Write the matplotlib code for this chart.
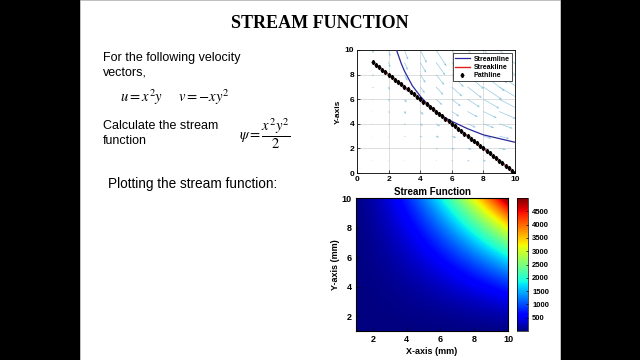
import numpy as np
import matplotlib.pyplot as plt
from matplotlib.patches import Rectangle

plt.rcParams['font.family'] = ['Liberation Sans', 'DejaVu Sans']
plt.rcParams['mathtext.fontset'] = 'stix'

# velocity field sample points (u = x^2 y, v = -x y^2 from the slide)
grid_x = [0, 1, 2, 3, 4, 5, 6, 7, 8, 9, 10]
grid_y = [0, 1, 2, 3, 4, 5, 6, 7, 8, 9, 10]

# streamline
streamline_x = [2.5, 2.8, 3.0, 3.5, 4.0, 4.5, 5.0, 5.5, 6.0, 7.0, 8.0, 9.0, 10.0]
streamline_y = [10.0, 8.9, 8.3, 7.1, 6.25, 5.55, 5.0, 4.55, 4.2, 3.6, 3.1, 2.8, 2.5]

# streakline and pathline (straight, from (1, 9) to (10, 0))
streak_x = [1, 10]
streak_y = [9, 0]
path_x = [1.0, 1.2, 1.4, 1.6, 1.8, 2.0, 2.2, 2.4, 2.6, 2.8,
          3.0, 3.2, 3.4, 3.6, 3.8, 4.0, 4.2, 4.4, 4.6, 4.8,
          5.0, 5.2, 5.4, 5.6, 5.8, 6.0, 6.2, 6.4, 6.6, 6.8,
          7.0, 7.2, 7.4, 7.6, 7.8, 8.0, 8.2, 8.4, 8.6, 8.8,
          9.0, 9.2, 9.4, 9.6, 9.8, 10.0]
path_y = [9.0, 8.8, 8.6, 8.4, 8.2, 8.0, 7.8, 7.6, 7.4, 7.2,
          7.0, 6.8, 6.6, 6.4, 6.2, 6.0, 5.8, 5.6, 5.4, 5.2,
          5.0, 4.8, 4.6, 4.4, 4.2, 4.0, 3.8, 3.6, 3.4, 3.2,
          3.0, 2.8, 2.6, 2.4, 2.2, 2.0, 1.8, 1.6, 1.4, 1.2,
          1.0, 0.8, 0.6, 0.4, 0.2, 0.0]

cbar_ticks = [500, 1000, 1500, 2000, 2500, 3000, 3500, 4000, 4500]

fig = plt.figure(figsize=(6.4, 3.6), dpi=100)
fig.patch.set_facecolor('black')
fig.patches.append(Rectangle((80 / 640, 0), 480 / 640, 1, transform=fig.transFigure,
                             facecolor='white', edgecolor='#dddddd', lw=0.5, zorder=-5))

# slide text
fig.text(0.5, 0.935, 'STREAM FUNCTION', ha='center', va='center', fontsize=13,
         fontweight='bold', family=['Liberation Serif', 'DejaVu Serif'])
fig.text(0.161, 0.839, 'For the following velocity', fontsize=9, va='center')
fig.text(0.161, 0.796, 'vectors,', fontsize=9, va='center')
fig.text(0.187, 0.731, r'$u = x^2y$', fontsize=10.5, va='center')
fig.text(0.278, 0.731, r'$v = -xy^2$', fontsize=10.5, va='center')
fig.text(0.161, 0.650, 'Calculate the stream', fontsize=9, va='center')
fig.text(0.161, 0.608, 'function', fontsize=9, va='center')
fig.text(0.374, 0.629, r'$\psi = \dfrac{x^2y^2}{2}$', fontsize=10.5, va='center')
fig.text(0.169, 0.489, 'Plotting the stream function:', fontsize=9.8, va='center')

# top plot: quiver + lines
ax1 = fig.add_axes([357 / 640, 1 - 173 / 360, 158 / 640, 123 / 360])
X, Y = np.meshgrid(grid_x, grid_y)
U = X ** 2 * Y
V = -X * Y ** 2
ax1.quiver(X, Y, U, V, color='#8cc6df', angles='xy', scale_units='xy', scale=380,
           width=0.004, headwidth=3.5, headlength=4.5, headaxislength=4, zorder=2)
ax1.plot(streamline_x, streamline_y, color='#2a2a9a', lw=0.9, label='Streamline', zorder=3)
ax1.plot(streak_x, streak_y, color='#e0201f', lw=1.0, label='Streakline', zorder=3)
ax1.plot(path_x, path_y, 'kd', ms=2.2, label='Pathline', zorder=4)
ax1.set_xlim(0, 10)
ax1.set_ylim(0, 10)
ax1.set_xticks([0, 2, 4, 6, 8, 10])
ax1.set_yticks([0, 2, 4, 6, 8, 10])
ax1.grid(True, color='#d0d0d0', lw=0.5)
ax1.set_axisbelow(True)
ax1.tick_params(labelsize=6, direction='in', length=2, width=0.5, pad=2)
for lab in ax1.get_xticklabels() + ax1.get_yticklabels():
    lab.set_fontweight('bold')
ax1.set_ylabel('Y-axis', fontsize=6, fontweight='bold', labelpad=2)
for sp in ax1.spines.values():
    sp.set_linewidth(0.6)
leg = ax1.legend(loc='upper right', fontsize=5, frameon=True, fancybox=False,
                 edgecolor='black', framealpha=1, handlelength=2.2, borderpad=0.3,
                 labelspacing=0.2, handletextpad=0.5)
leg.get_frame().set_linewidth(0.5)
for t in leg.get_texts():
    t.set_fontweight('bold')

# bottom plot: stream function
ax2 = fig.add_axes([356 / 640, 1 - 331 / 360, 152 / 640, 133 / 360])
xs = np.linspace(1, 10, 181)
ys = np.linspace(1, 10, 181)
XX, YY = np.meshgrid(xs, ys)
psi = XX ** 2 * YY ** 2 / 2
mesh = ax2.pcolormesh(XX, YY, psi, cmap='jet', shading='gouraud', vmin=0.5, vmax=5000)
ax2.set_xlim(1, 10)
ax2.set_ylim(1, 10)
ax2.set_xticks([2, 4, 6, 8, 10])
ax2.set_yticks([2, 4, 6, 8, 10])
ax2.tick_params(labelsize=6.5, direction='in', length=2, width=0.5, pad=3)
for lab in ax2.get_xticklabels() + ax2.get_yticklabels():
    lab.set_fontweight('bold')
ax2.set_title('Stream Function', fontsize=7, fontweight='bold', pad=2)
ax2.set_xlabel('X-axis (mm)', fontsize=6.5, fontweight='bold', labelpad=2)
ax2.set_ylabel('Y-axis (mm)', fontsize=6.5, fontweight='bold', labelpad=1)

cax = fig.add_axes([517 / 640, 1 - 331 / 360, 11 / 640, 133 / 360])
cb = fig.colorbar(mesh, cax=cax, ticks=cbar_ticks)
cb.ax.tick_params(labelsize=5.5, direction='in', length=1.5, width=0.5, pad=3)
for lab in cb.ax.get_yticklabels():
    lab.set_fontweight('bold')
cb.outline.set_linewidth(0.5)

fig.savefig('out.png', dpi=100, facecolor=fig.get_facecolor())
